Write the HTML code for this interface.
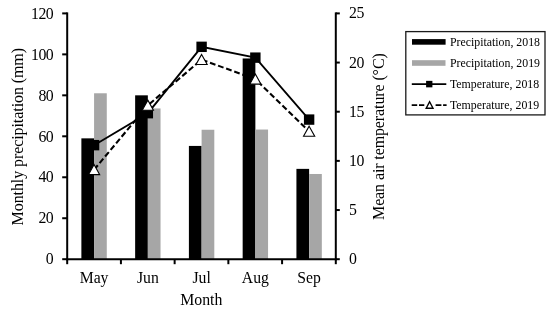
<!DOCTYPE html>
<html><head><meta charset="utf-8"><title>Chart</title>
<style>html,body{margin:0;padding:0;background:#fff}body{width:550px;height:309px;overflow:hidden}</style></head>
<body>
<svg width="550" height="309" viewBox="0 0 550 309" style="display:block">
<rect width="550" height="309" fill="#fff"/>
<g font-family="'Liberation Serif', serif" fill="#000">
<rect x="81.38" y="138.35" width="12.70" height="120.85" fill="#000"/>
<rect x="94.08" y="93.28" width="12.70" height="165.91" fill="#a6a6a6"/>
<rect x="135.14" y="95.33" width="12.70" height="163.87" fill="#000"/>
<rect x="147.84" y="108.44" width="12.70" height="150.76" fill="#a6a6a6"/>
<rect x="188.90" y="145.93" width="12.70" height="113.27" fill="#000"/>
<rect x="201.60" y="129.75" width="12.70" height="129.45" fill="#a6a6a6"/>
<rect x="242.66" y="58.46" width="12.70" height="200.74" fill="#000"/>
<rect x="255.36" y="129.54" width="12.70" height="129.66" fill="#a6a6a6"/>
<rect x="296.42" y="168.87" width="12.70" height="90.33" fill="#000"/>
<rect x="309.12" y="173.99" width="12.70" height="85.21" fill="#a6a6a6"/>
<g stroke="#000" stroke-width="2" fill="none">
<path d="M67.2 12.4 V260.2"/>
<path d="M335.8 12.4 V260.2"/>
<path d="M66.2 259.2 H336.8"/>
<path d="M62.2 259.20 H67.2"/>
<path d="M62.2 218.23 H67.2"/>
<path d="M62.2 177.27 H67.2"/>
<path d="M62.2 136.30 H67.2"/>
<path d="M62.2 95.33 H67.2"/>
<path d="M62.2 54.37 H67.2"/>
<path d="M62.2 13.40 H67.2"/>
<path d="M335.8 259.20 H339.8"/>
<path d="M335.8 210.04 H339.8"/>
<path d="M335.8 160.88 H339.8"/>
<path d="M335.8 111.72 H339.8"/>
<path d="M335.8 62.56 H339.8"/>
<path d="M335.8 13.40 H339.8"/>
<path d="M67.20 259.2 V264.2"/>
<path d="M120.92 259.2 V264.2"/>
<path d="M174.64 259.2 V264.2"/>
<path d="M228.36 259.2 V264.2"/>
<path d="M282.08 259.2 V264.2"/>
<path d="M335.80 259.2 V264.2"/>
</g>
<text x="53.0" y="264.40" font-size="15.8" letter-spacing="-0.6" text-anchor="end">0</text>
<text x="53.0" y="223.43" font-size="15.8" letter-spacing="-0.6" text-anchor="end">20</text>
<text x="53.0" y="182.47" font-size="15.8" letter-spacing="-0.6" text-anchor="end">40</text>
<text x="53.0" y="141.50" font-size="15.8" letter-spacing="-0.6" text-anchor="end">60</text>
<text x="53.0" y="100.53" font-size="15.8" letter-spacing="-0.6" text-anchor="end">80</text>
<text x="53.0" y="59.57" font-size="15.8" letter-spacing="-0.6" text-anchor="end">100</text>
<text x="53.0" y="18.60" font-size="15.8" letter-spacing="-0.6" text-anchor="end">120</text>
<text x="349.0" y="264.20" font-size="15.8" letter-spacing="-0.5">0</text>
<text x="349.0" y="215.04" font-size="15.8" letter-spacing="-0.5">5</text>
<text x="349.0" y="165.88" font-size="15.8" letter-spacing="-0.5">10</text>
<text x="349.0" y="116.72" font-size="15.8" letter-spacing="-0.5">15</text>
<text x="349.0" y="67.56" font-size="15.8" letter-spacing="-0.5">20</text>
<text x="349.0" y="18.40" font-size="15.8" letter-spacing="-0.5">25</text>
<text x="94.08" y="283" font-size="15.7" text-anchor="middle">May</text>
<text x="147.84" y="283" font-size="15.7" text-anchor="middle">Jun</text>
<text x="201.60" y="283" font-size="15.7" text-anchor="middle">Jul</text>
<text x="255.36" y="283" font-size="15.7" text-anchor="middle">Aug</text>
<text x="309.12" y="283" font-size="15.7" text-anchor="middle">Sep</text>
<text x="201.3" y="305.1" font-size="15.8" text-anchor="middle">Month</text>
<text transform="translate(22.9 136.7) rotate(-90)" font-size="16" text-anchor="middle" textLength="177.5" lengthAdjust="spacing">Monthly precipitation (mm)</text>
<text transform="translate(383.9 136.6) rotate(-90)" font-size="16" text-anchor="middle" textLength="166.8" lengthAdjust="spacing">Mean air temperature (°C)</text>
<polyline fill="none" stroke="#000" stroke-width="1.8" points="94.08,145.15 147.84,113.19 201.60,46.83 255.36,57.64 309.12,119.59"/>
<polyline fill="none" stroke="#000" stroke-width="2.1" stroke-dasharray="5.8 2.8" points="94.08,169.73 147.84,105.33 201.60,59.61 255.36,79.27 309.12,131.38"/>
<rect x="88.88" y="139.95" width="10.4" height="10.4" fill="#000"/>
<rect x="142.64" y="107.99" width="10.4" height="10.4" fill="#000"/>
<rect x="196.40" y="41.63" width="10.4" height="10.4" fill="#000"/>
<rect x="250.16" y="52.44" width="10.4" height="10.4" fill="#000"/>
<rect x="303.92" y="114.39" width="10.4" height="10.4" fill="#000"/>
<path d="M94.08 164.53 L99.68 174.63 H88.48 Z" fill="#fff" stroke="#000" stroke-width="1.1"/>
<path d="M147.84 100.13 L153.44 110.23 H142.24 Z" fill="#fff" stroke="#000" stroke-width="1.1"/>
<path d="M201.60 54.41 L207.20 64.51 H196.00 Z" fill="#fff" stroke="#000" stroke-width="1.1"/>
<path d="M255.36 74.07 L260.96 84.17 H249.76 Z" fill="#fff" stroke="#000" stroke-width="1.1"/>
<path d="M309.12 126.18 L314.72 136.28 H303.52 Z" fill="#fff" stroke="#000" stroke-width="1.1"/>
<rect x="405.8" y="31.6" width="139.2" height="83.3" fill="#fff" stroke="#1a1a1a" stroke-width="1.3"/>
<rect x="412" y="39.1" width="33.6" height="5.6" fill="#000"/>
<rect x="412" y="60.2" width="33.5" height="5.6" fill="#a6a6a6"/>
<path d="M411.8 84.1 H446.3" stroke="#000" stroke-width="1.7"/>
<rect x="426.1" y="80.85" width="6.3" height="6.5" fill="#000"/>
<path d="M411.7 105.1 H417.2 M419 105.1 H424.3 M435.6 105.1 H441.4 M443.1 105.1 H446.6" stroke="#000" stroke-width="1.9"/>
<path d="M429.6 101.8 L433 108.3 H426.2 Z" fill="#fff" stroke="#000" stroke-width="1.4"/>
<text x="449.9" y="45.80" font-size="11.85">Precipitation, 2018</text>
<text x="449.9" y="66.90" font-size="11.85">Precipitation, 2019</text>
<text x="449.9" y="88.00" font-size="11.85">Temperature, 2018</text>
<text x="449.9" y="109.00" font-size="11.85">Temperature, 2019</text>
</g></svg>
</body></html>
